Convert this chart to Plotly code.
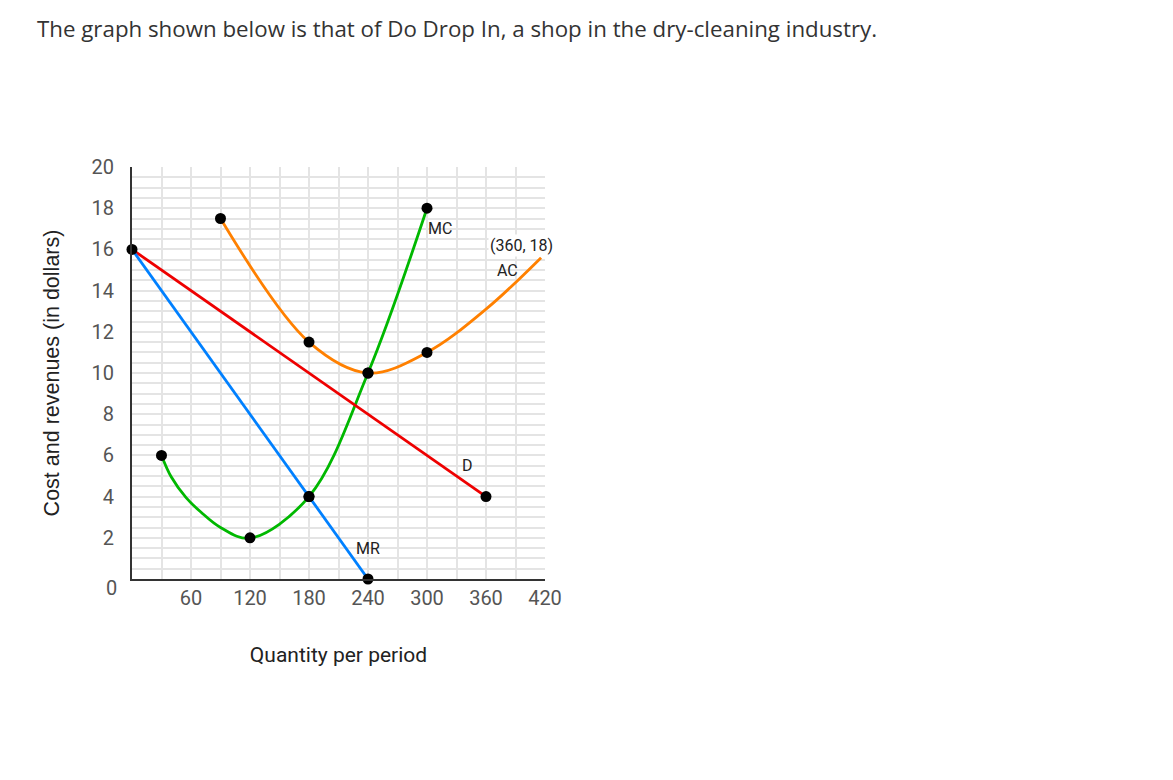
import plotly.graph_objects as go

# ---- data ----
d_x = [0, 360]
d_y = [16, 4]
mr_x = [0, 240]
mr_y = [16, 0]
mc_x = [30, 40, 55, 70, 90, 120, 180, 240, 300]
mc_y = [6, 4.95, 3.95, 3.25, 2.5, 1.98, 4, 10, 18]
mc_pts_x = [30, 120, 180, 240, 300]
mc_pts_y = [6, 2, 4, 10, 18]
ac_x = [90, 180, 240, 300, 360, 416]
ac_y = [17.5, 11.5, 10, 11, 13.1, 15.6]
ac_pts_x = [90, 180, 240, 300]
ac_pts_y = [17.5, 11.5, 10, 11]
dot_x = [0, 360, 240, 180]
dot_y = [16, 4, 0, 4]
x_ticks = [60, 120, 180, 240, 300, 360, 420]
y_ticks = [2, 4, 6, 8, 10, 12, 14, 16, 18, 20]

title_text = "The graph shown below is that of Do Drop In, a shop in the dry-cleaning industry."

fig = go.Figure()
line_w = 2.8
fig.add_trace(go.Scatter(x=ac_x, y=ac_y, mode="lines",
                         line=dict(color="#ff8000", width=line_w, shape="spline", smoothing=1),
                         hoverinfo="skip"))
fig.add_trace(go.Scatter(x=mc_x, y=mc_y, mode="lines",
                         line=dict(color="#00b800", width=line_w, shape="spline", smoothing=1),
                         hoverinfo="skip"))
fig.add_trace(go.Scatter(x=d_x, y=d_y, mode="lines",
                         line=dict(color="#ee0000", width=line_w), hoverinfo="skip"))
fig.add_trace(go.Scatter(x=mr_x, y=mr_y, mode="lines",
                         line=dict(color="#0080ff", width=line_w), hoverinfo="skip"))
marker = dict(color="black", size=11)
fig.add_trace(go.Scatter(x=mc_pts_x, y=mc_pts_y, mode="markers", marker=marker, cliponaxis=False))
fig.add_trace(go.Scatter(x=ac_pts_x, y=ac_pts_y, mode="markers", marker=marker, cliponaxis=False))
fig.add_trace(go.Scatter(x=dot_x, y=dot_y, mode="markers", marker=marker, cliponaxis=False))

lab_font = dict(family="Roboto", size=16, color="#222222")
labels = [
    ("MC", 313, 17.0, None),
    ("(360, 18)", 396, 16.2, "white"),
    ("AC", 381.5, 15.0, None),
    ("D", 341, 5.5, None),
    ("MR", 240, 1.5, None),
]
for t, x, y, bg in labels:
    fig.add_annotation(x=x, y=y, text=t, showarrow=False, font=lab_font,
                       bgcolor=bg if bg else "rgba(0,0,0,0)", borderpad=1)

fig.add_annotation(xref="paper", yref="paper", x=-13/413, y=-9/412, text="0",
                   showarrow=False, xanchor="right", yanchor="middle",
                   font=dict(family="Roboto", size=20, color="#555555"))

fig.add_annotation(xref="paper", yref="paper", x=-97/413, y=1 + 139/412, text=title_text,
                   showarrow=False, xanchor="left", yanchor="middle",
                   font=dict(family="Open Sans", size=22.3, color="#333333"))

grid_c = "#e4e4e4"
fig.update_layout(
    width=1173, height=780,
    margin=dict(l=132, r=628, t=167, b=201),
    paper_bgcolor="white", plot_bgcolor="white",
    showlegend=False,
    xaxis=dict(range=[0, 420], tickvals=x_ticks, showgrid=True, gridcolor=grid_c, gridwidth=1.5,
               minor=dict(tickvals=[30, 90, 150, 210, 270, 330, 390], showgrid=True, gridcolor=grid_c, gridwidth=1.5),
               zeroline=False, showline=True, linecolor="#333333", linewidth=2,
               tickfont=dict(family="Roboto", size=20, color="#555555"),
               ticks="", ticklabelstandoff=0,
               title=dict(text="Quantity per period", standoff=38,
                          font=dict(family="Roboto", size=21, color="#222222"))),
    yaxis=dict(range=[0, 20], tickvals=y_ticks, showgrid=True, gridcolor=grid_c, gridwidth=1.5,
               minor=dict(dtick=0.5, showgrid=True, gridcolor=grid_c, gridwidth=1.5),
               zeroline=False, showline=True, linecolor="#333333", linewidth=2,
               tickfont=dict(family="Roboto", size=20, color="#555555"),
               ticks="", ticklabelstandoff=12,
               title=dict(text="Cost and revenues (in dollars)", standoff=26,
                          font=dict(family="Liberation Sans", size=21.5, color="#222222"))),
)

fig.write_html("out.html")
